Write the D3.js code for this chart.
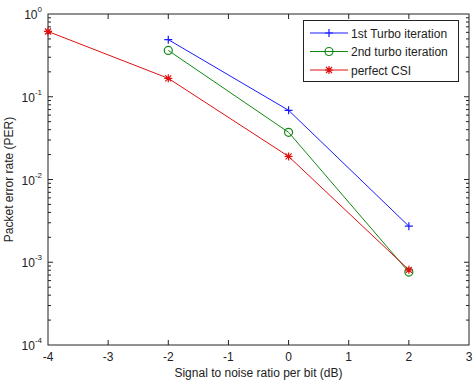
<!DOCTYPE html>
<html>
<head>
<meta charset="utf-8">
<script src="https://cdnjs.cloudflare.com/ajax/libs/d3/7.8.5/d3.min.js"></script>
<style>
body { margin: 0; background: #fff; }
text { font-family: "Liberation Sans", Arial, sans-serif; }
</style>
</head>
<body>
<svg width="474" height="385"></svg>
<script>
// data
var snrRed = [-4, -2, 0, 2];
var perfectCSI = [0.615, 0.167, 0.019, 0.00081];
var snrTurbo = [-2, 0, 2];
var turbo1 = [0.49, 0.0686, 0.00273];
var turbo2 = [0.363, 0.0372, 0.00076];
var xTicks = [-4, -3, -2, -1, 0, 1, 2, 3];
var yExps = [0, -1, -2, -3, -4];

const svg = d3.select("svg"),
  margin = {top: 14, right: 5, bottom: 40, left: 48},
  width = 474 - margin.left - margin.right,
  height = 345 - margin.top,
  x = d3.scaleLinear().domain([-4, 3]).range([0, width]),
  y = d3.scaleLog().domain([1e-4, 1]).range([height, 0]),
  g = svg.append("g").attr("transform", `translate(${margin.left},${margin.top})`);

// frame
g.append("rect").attr("width", width).attr("height", height)
  .attr("fill", "none").attr("stroke", "#222").attr("stroke-width", 1);

// ticks inward on all sides
xTicks.forEach(function(t) {
  if (t === -4 || t === 3) return;
  g.append("line").attr("x1", x(t)).attr("x2", x(t)).attr("y1", height).attr("y2", height - 5).attr("stroke", "#222");
  g.append("line").attr("x1", x(t)).attr("x2", x(t)).attr("y1", 0).attr("y2", 5).attr("stroke", "#222");
});
for (var e = -4; e < 0; e++) {
  for (var m = 1; m < 10; m++) {
    var v = m * Math.pow(10, e);
    var len = m === 1 ? 5 : 3;
    if (m === 1 && e === -4) continue;
    g.append("line").attr("x1", 0).attr("x2", len).attr("y1", y(v)).attr("y2", y(v)).attr("stroke", "#222");
    g.append("line").attr("x1", width).attr("x2", width - len).attr("y1", y(v)).attr("y2", y(v)).attr("stroke", "#222");
  }
}

// x tick labels
g.selectAll(".xl").data(xTicks).enter().append("text")
  .attr("x", d => x(d)).attr("y", height + 16)
  .attr("text-anchor", "middle").attr("font-size", 12).attr("fill", "#222")
  .text(d => d);

// y tick labels 10^n
yExps.forEach(function(n) {
  var t = g.append("text").attr("x", -6).attr("y", y(Math.pow(10, n)) + 5)
    .attr("text-anchor", "end").attr("font-size", 12).attr("fill", "#222");
  t.append("tspan").text("10");
  t.append("tspan").attr("dy", -7).attr("font-size", 8).text(n);
});

// axis titles
svg.append("text").attr("x", margin.left + width / 2).attr("y", 377)
  .attr("text-anchor", "middle").attr("font-size", 12).attr("fill", "#222")
  .text("Signal to noise ratio per bit (dB)");
svg.append("text").attr("transform", "translate(13," + (margin.top + height / 2) + ") rotate(-90)")
  .attr("text-anchor", "middle").attr("font-size", 12).attr("fill", "#222")
  .text("Packet error rate (PER)");

var line = d3.line().x(d => x(d[0])).y(d => y(d[1]));

function series(xs, ys, color, marker) {
  var pts = xs.map((d, i) => [d, ys[i]]);
  g.append("path").datum(pts).attr("d", line).attr("fill", "none")
    .attr("stroke", color).attr("stroke-width", 1);
  pts.forEach(p => drawMarker(g, x(p[0]), y(p[1]), color, marker));
}

function drawMarker(sel, cx, cy, color, marker) {
  if (marker === "plus") {
    sel.append("path").attr("d", `M${cx-4},${cy}H${cx+4}M${cx},${cy-4}V${cy+4}`).attr("stroke", color).attr("stroke-width", 1.2);
  } else if (marker === "circle") {
    sel.append("circle").attr("cx", cx).attr("cy", cy).attr("r", 4).attr("fill", "none").attr("stroke", color).attr("stroke-width", 1.2);
  } else {
    sel.append("path").attr("d", `M${cx-4},${cy}H${cx+4}M${cx},${cy-4}V${cy+4}M${cx-3},${cy-3}L${cx+3},${cy+3}M${cx-3},${cy+3}L${cx+3},${cy-3}`)
      .attr("stroke", color).attr("stroke-width", 1.2);
  }
}

series(snrTurbo, turbo1, "#1a1aff", "plus");
series(snrTurbo, turbo2, "#118811", "circle");
series(snrRed, perfectCSI, "#e01010", "star");

// legend
var legendItems = [
  {label: "1st Turbo iteration", color: "#1a1aff", marker: "plus"},
  {label: "2nd turbo iteration", color: "#118811", marker: "circle"},
  {label: "perfect CSI", color: "#e01010", marker: "star"}
];
var lg = svg.append("g");
lg.append("rect").attr("x", 303.5).attr("y", 20.5).attr("width", 155).attr("height", 61)
  .attr("fill", "#fff").attr("stroke", "#222");
legendItems.forEach(function(d, i) {
  var ly = 33 + i * 18.5;
  lg.append("line").attr("x1", 310).attr("x2", 348).attr("y1", ly).attr("y2", ly).attr("stroke", d.color);
  drawMarker(lg, 329, ly, d.color, d.marker);
  lg.append("text").attr("x", 351).attr("y", ly + 4.5).attr("font-size", 12).attr("fill", "#222").text(d.label);
});
</script>
</body>
</html>
